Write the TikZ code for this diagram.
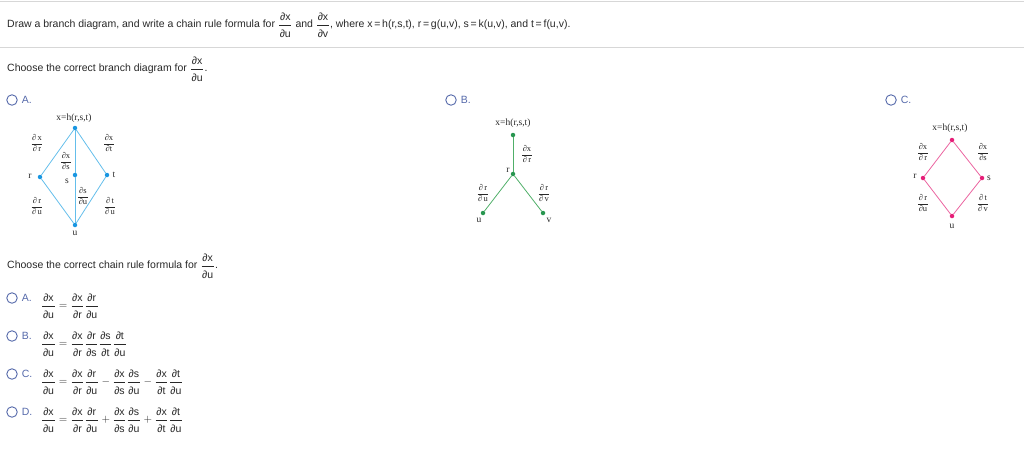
\documentclass[tikz,border=0pt]{standalone}
\usepackage{fontspec}
\setmainfont{Liberation Sans}
\newfontfamily\diagfont{Liberation Serif}
\usetikzlibrary{positioning}

\definecolor{textgrey}{RGB}{40,40,40}
\definecolor{rulegrey}{RGB}{215,215,215}
\definecolor{radioblue}{RGB}{85,105,170}
\definecolor{blueline}{RGB}{100,190,235}
\definecolor{bluedot}{RGB}{25,150,225}
\definecolor{greenline}{RGB}{80,175,105}
\definecolor{greendot}{RGB}{40,150,80}
\definecolor{pinkline}{RGB}{235,100,160}
\definecolor{pinkdot}{RGB}{230,30,120}

% partial derivative as a stacked fraction (question text)
\newcommand{\pf}[2]{\ensuremath{\displaystyle\frac{\mbox{\kern0.6pt#1\kern0.6pt}}{\mbox{\rule{0pt}{1.0em}\kern0.6pt#2\kern0.6pt}}}}
% smaller one for the branch labels
\newcommand{\pd}[2]{\ensuremath{\displaystyle\frac{\mbox{\kern0.4pt#1\kern0.4pt}}{\mbox{\kern0.4pt#2\kern0.4pt}}}}

\tikzset{
  txt/.style={anchor=west, inner sep=0pt, text=textgrey, font=\fontsize{10.5}{12}\selectfont},
  radio/.style={circle, draw=radioblue, line width=0.9pt, minimum size=10.5pt, inner sep=0pt},
  optlbl/.style={anchor=west, inner sep=0pt, text=radioblue, font=\fontsize{10.5}{12}\selectfont},
  lbl/.style={inner sep=0pt, text=textgrey, font=\diagfont\fontsize{9.5}{10}\selectfont},
  frl/.style={inner sep=0pt, text=textgrey, font=\diagfont\fontsize{8.5}{9}\selectfont},
  dot/.style={circle, inner sep=0pt, minimum size=4.5pt},
}

\begin{document}
\begin{tikzpicture}[x=1pt,y=-1pt]
  \useasboundingbox (0,0) rectangle (1024,448);

  % header rules
  \draw[rulegrey] (0,1) -- (1024,1);
  \draw[rulegrey] (0,47) -- (1024,47);

  % question
  \node[txt] (q) at (7,25) {Draw a branch diagram, and write a chain rule formula for \pf{∂x}{∂u} and \pf{∂x}{∂v}, where x\,=\,h(r,s,t), r\,=\,g(u,v), s\,=\,k(u,v), and t\,=\,f(u,v).};
  \node[txt] (qa) at (7,69) {Choose the correct branch diagram for \pf{∂x}{∂u}.};

  % choices for the diagram
  \node[radio] (ra) at (12,100) {};
  \node[optlbl, right=4pt of ra] {A.};
  \node[radio] (rb) at (451,100) {};
  \node[optlbl, right=4pt of rb] {B.};
  \node[radio] (rc) at (891,100) {};
  \node[optlbl, right=4pt of rc] {C.};

  % diagram A
  \node[dot, fill=bluedot] (Ax) at (75,128) {};
  \node[dot, fill=bluedot] (Ar) at (40,177) {};
  \node[dot, fill=bluedot] (As) at (75,175) {};
  \node[dot, fill=bluedot] (At) at (107,175) {};
  \node[dot, fill=bluedot] (Au) at (75,225) {};
  \draw[blueline, thick] (Ax) -- (Ar) -- (Au);
  \draw[blueline, thick] (Ax) -- (As) -- (Au);
  \draw[blueline, thick] (Ax) -- (At) -- (Au);
  \node[lbl] (Axl) at (74,118) {x=h(r,s,t)};
  \node[lbl] (Arl) at (30,176) {r};
  \node[lbl] (Asl) at (67,181) {s};
  \node[lbl] (Atl) at (114,175) {t};
  \node[lbl] (Aul) at (75,233) {u};
  \node[frl] at (37,143) {\pd{∂\,x}{∂\,r}};
  \node[frl] at (66,161) {\pd{∂x}{∂s}};
  \node[frl] at (109,143) {\pd{∂x}{∂t}};
  \node[frl] at (83,196) {\pd{∂s}{∂u}};
  \node[frl] at (37,206) {\pd{∂\,r}{∂\,u}};
  \node[frl] at (110,206) {\pd{∂\,t}{∂\,u}};

  % diagram B
  \node[dot, fill=greendot] (Bx) at (513,135) {};
  \node[dot, fill=greendot] (Br) at (513,174) {};
  \node[dot, fill=greendot] (Bu) at (483,213) {};
  \node[dot, fill=greendot] (Bv) at (543,213) {};
  \draw[greenline, thick] (Bx) -- (Br);
  \draw[greenline, thick] (Br) -- (Bu);
  \draw[greenline, thick] (Br) -- (Bv);
  \node[lbl] (Bxl) at (513,123) {x=h(r,s,t)};
  \node[lbl] (Brl) at (508,170) {r};
  \node[lbl] (Bul) at (479,220) {u};
  \node[lbl] (Bvl) at (549,220) {v};
  \node[frl] at (527,154) {\pd{∂x}{∂\,r}};
  \node[frl] at (483,193) {\pd{∂\,r}{∂\,u}};
  \node[frl] at (544,193) {\pd{∂\,r}{∂\,v}};

  % diagram C
  \node[dot, fill=pinkdot] (Cx) at (952,140) {};
  \node[dot, fill=pinkdot] (Cr) at (923,178) {};
  \node[dot, fill=pinkdot] (Cs) at (982,178) {};
  \node[dot, fill=pinkdot] (Cu) at (952,216) {};
  \draw[pinkline, thick] (Cx) -- (Cr) -- (Cu);
  \draw[pinkline, thick] (Cx) -- (Cs) -- (Cu);
  \node[lbl] (Cxl) at (950,128) {x=h(r,s,t)};
  \node[lbl] (Crl) at (915,176) {r};
  \node[lbl] (Csl) at (989,178) {s};
  \node[lbl] (Cul) at (952,226) {u};
  \node[frl] at (923,152) {\pd{∂x}{∂\,r}};
  \node[frl] at (983,152) {\pd{∂x}{∂s}};
  \node[frl] at (923,203) {\pd{∂\,r}{∂u}};
  \node[frl] at (983,203) {\pd{∂\,t}{∂\,v}};

  % chain rule formula
  \node[txt] (qb) at (7,266) {Choose the correct chain rule formula for \pf{∂x}{∂u}.};

  \node[radio] (fa) at (12,298) {};
  \node[optlbl, right=4pt of fa] {A.};
  \node[txt] (Fa) at (41,306) {$\pf{∂x}{∂u} = \pf{∂x}{∂r}\pf{∂r}{∂u}$};

  \node[radio] (fb) at (12,336) {};
  \node[optlbl, right=4pt of fb] {B.};
  \node[txt] (Fb) at (41,344) {$\pf{∂x}{∂u} = \pf{∂x}{∂r}\pf{∂r}{∂s}\pf{∂s}{∂t}\pf{∂t}{∂u}$};

  \node[radio] (fc) at (12,374) {};
  \node[optlbl, right=4pt of fc] {C.};
  \node[txt] (Fc) at (41,382) {$\pf{∂x}{∂u} = \pf{∂x}{∂r}\pf{∂r}{∂u} - \pf{∂x}{∂s}\pf{∂s}{∂u} - \pf{∂x}{∂t}\pf{∂t}{∂u}$};

  \node[radio] (fd) at (12,412) {};
  \node[optlbl, right=4pt of fd] {D.};
  \node[txt] (Fd) at (41,420) {$\pf{∂x}{∂u} = \pf{∂x}{∂r}\pf{∂r}{∂u} + \pf{∂x}{∂s}\pf{∂s}{∂u} + \pf{∂x}{∂t}\pf{∂t}{∂u}$};
\end{tikzpicture}
\end{document}
